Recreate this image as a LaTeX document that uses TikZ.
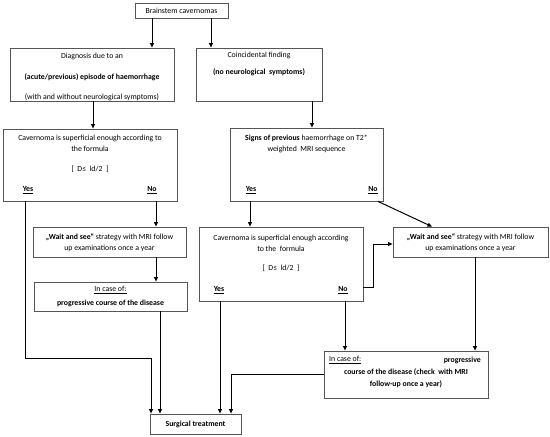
\documentclass[tikz,border=0pt]{standalone}
\usepackage{fontspec}
\setmainfont{Carlito}
\definecolor{boxgray}{RGB}{85, 85, 85}
\usetikzlibrary{arrows.meta}
\tikzset{
    box/.style={draw=boxgray, line width=0.8pt, inner sep=0pt},
    txt/.style={font=\fontsize{7.8}{9}\selectfont, inner sep=0pt},
    arr/.style={-{Triangle[length=4.5pt,width=4pt]}, line width=1pt, black},
    link/.style={line width=1pt, black}
}
\newcommand{\yn}[1]{\textbf{\underline{#1}}}

\begin{document}
\begin{tikzpicture}[x=1pt,y=-1pt]
    \useasboundingbox (0,0) rectangle (550,437);

    % Boxes
    \node[box, minimum width=93pt, minimum height=15pt] (brain) at (181.5,10.5) {};
    \node[box, minimum width=164pt, minimum height=53pt] (diag) at (92,74.5) {};
    \node[box, minimum width=126pt, minimum height=53pt] (coinc) at (259,74.5) {};
    \node[box, minimum width=174pt, minimum height=72pt] (cavL) at (90,165) {};
    \node[box, minimum width=153pt, minimum height=73pt] (signs) at (306.5,164.5) {};
    \node[box, minimum width=153pt, minimum height=30pt] (waitL) at (109.5,242) {};
    \node[box, minimum width=153pt, minimum height=29pt] (caseL) at (110.5,296.5) {};
    \node[box, minimum width=164pt, minimum height=74pt] (cavR) at (281,264) {};
    \node[box, minimum width=155pt, minimum height=30pt] (waitR) at (470.5,242) {};
    \node[box, minimum width=164pt, minimum height=47pt] (caseR) at (406,374.5) {};
    \node[box, minimum width=91pt, minimum height=20pt] (surg) at (195.5,424) {};

    % Texts
    \node[txt] (brainT) at (181.5,10.5) {Brainstem cavernomas};
    \node[txt] (diagA) at (92,56) {Diagnosis due to an};
    \node[txt] (diagB) at (92,77) {\textbf{(acute/previous) episode of haemorrhage}};
    \node[txt] (diagC) at (92,97) {(with and without neurological symptoms)};
    \node[txt] (coincA) at (259,55) {Coincidental finding};
    \node[txt] (coincB) at (259,72) {\textbf{(no neurological\ \ symptoms)}};
    \node[txt] (cavLA) at (90,138) {Cavernoma is superficial enough according to};
    \node[txt] (cavLB) at (90,149) {the formula};
    \node[txt] (cavLC) at (90,169) {[\ \ D≤\ \ ld/2\ \ ]};
    \node[txt] (cavLY) at (28,190) {\yn{Yes}};
    \node[txt] (cavLN) at (152,190) {\yn{No}};
    \node[txt] (signsA) at (306.5,138) {\textbf{Signs of previous} haemorrhage on T2*};
    \node[txt] (signsB) at (306.5,149) {weighted\ \ MRI sequence};
    \node[txt] (signsY) at (251,190) {\yn{Yes}};
    \node[txt] (signsN) at (373,190) {\yn{No}};
    \node[txt] (waitLA) at (109.5,237) {\textbf{„Wait and see“} strategy with MRI follow};
    \node[txt] (waitLB) at (109.5,248) {up examinations once a year};
    \node[txt] (caseLA) at (110.5,290) {\underline{In case of:}};
    \node[txt] (caseLB) at (110.5,303) {\textbf{progressive course of the disease}};
    \node[txt] (cavRA) at (281,238) {Cavernoma is superficial enough according};
    \node[txt] (cavRB) at (281,249) {to the\ \ formula};
    \node[txt] (cavRC) at (281,268) {[\ \ D≤\ \ ld/2\ \ ]};
    \node[txt] (cavRY) at (219,290) {\yn{Yes}};
    \node[txt] (cavRN) at (343,290) {\yn{No}};
    \node[txt] (waitRA) at (470.5,237) {\textbf{„Wait and see“} strategy with MRI follow};
    \node[txt] (waitRB) at (470.5,248) {up examinations once a year};
    \node[txt, anchor=west] (caseRA) at (329,360) {\underline{In case of:}};
    \node[txt, anchor=east] (caseRB) at (481,360) {\textbf{progressive}};
    \node[txt] (caseRC) at (406,372) {\textbf{course of the disease (check\ \ with MRI}};
    \node[txt] (caseRD) at (406,384) {\textbf{follow-up once a year)}};
    \node[txt] (surgT) at (195.5,424) {\textbf{Surgical treatment}};

    % Connectors
    \draw[arr] (152,0 |- brain.south) -- (152,0 |- diag.north);
    \draw[arr] (211,0 |- brain.south) -- (211,0 |- coinc.north);
    \draw[arr] (93,0 |- diag.south) -- (93,0 |- cavL.north);
    \draw[arr] (312,0 |- coinc.south) -- (312,0 |- signs.north);
    \draw[arr] (156,0 |- cavL.south) -- (156,0 |- waitL.north);
    \draw[arr] (156,0 |- waitL.south) -- (156,0 |- caseL.north);
    \draw[arr] (160,0 |- caseL.south) -- (160,0 |- surg.north);
    \draw[arr] (25,0 |- cavL.south) -- (25,358) -- (151,358) -- (151,0 |- surg.north);
    \draw[arr] (250,0 |- signs.south) -- (250,0 |- cavR.north);
    \draw[arr] (378,0 |- signs.south) -- (432,0 |- waitR.north);
    \draw[arr] (cavR.east |- 0,287) -- (373,287) -- (373,244) -- (waitR.west |- 0,244);
    \draw[arr] (345,0 |- cavR.south) -- (345,0 |- caseR.north);
    \draw[arr] (475,0 |- waitR.south) -- (475,0 |- caseR.north);
    \draw[arr] (220,0 |- cavR.south) -- (220,0 |- surg.north);
    \draw[arr] (caseR.west |- 0,374) -- (231,374) -- (231,0 |- surg.north);
\end{tikzpicture}
\end{document}
